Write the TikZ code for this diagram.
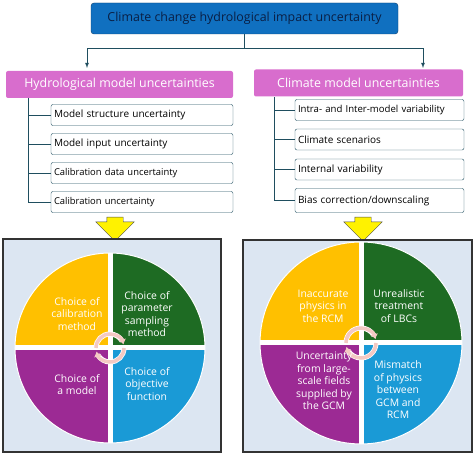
\documentclass[tikz,border=0pt]{standalone}
\usepackage{fontspec}
\setmainfont{Open Sans}
\usetikzlibrary{positioning,shapes.arrows,arrows.meta}

\definecolor{topblue}{HTML}{1070C0}
\definecolor{topline}{HTML}{0B3D6B}
\definecolor{toptext}{HTML}{0A1F44}
\definecolor{pinkbox}{HTML}{D86DCD}
\definecolor{treeline}{HTML}{1F4E5F}
\definecolor{panelblue}{HTML}{DCE6F2}
\definecolor{qyellow}{HTML}{FFC000}
\definecolor{qgreen}{HTML}{1E6B23}
\definecolor{qpurple}{HTML}{9C2A94}
\definecolor{qblue}{HTML}{1A9AD6}
\definecolor{cyclepink}{HTML}{F4C9C3}

\begin{document}
\begin{tikzpicture}[x=1pt, y=-1pt, >=latex, node distance=29pt]
        \tikzstyle{topbox} = [draw=topline, fill=topblue, rounded corners=3pt, text=toptext,
          minimum width=307pt, minimum height=31pt, font=\fontsize{12.4}{14}\selectfont]
        \tikzstyle{groupbox} = [fill=pinkbox, rounded corners=2pt, text=white,
          minimum height=27pt, font=\fontsize{12.4}{14}\selectfont]
        \tikzstyle{itembox} = [draw=treeline, rounded corners=2pt, align=left, inner xsep=3pt,
          minimum height=21pt, font=\fontsize{10}{11}\selectfont]
        \tikzstyle{yarrow} = [single arrow, draw=black!70, fill=yellow, rotate=-90,
          minimum height=24pt, inner xsep=0pt, inner ysep=8pt, single arrow head extend=11pt]
        \tikzstyle{panel} = [draw=black!80, line width=1.2pt, fill=panelblue]
        \tikzstyle{qtext} = [text=white, align=center, font=\fontsize{10.4}{12.5}\selectfont]
        \tikzstyle{cycle} = [cyclepink, line width=3.5pt, -{Latex[length=5pt,width=8pt]}]

        \useasboundingbox (0,0) rectangle (475,457);

        % header and the two groups
        \node [topbox] (top) at (244.5,18.5) {Climate change hydrological impact uncertainty};
        \node [groupbox, minimum width=227pt] (hyd) at (119.5,84.5) {Hydrological model uncertainties};
        \node [groupbox, minimum width=209pt] (clim) at (358.5,83) {Climate model uncertainties};
        \coordinate (split) at (244.5,48);
        \coordinate (hydtip) at (87,68);
        \coordinate (climtip) at (423,68);
        \draw [treeline, thick] (top.south) -- (split);
        \draw [treeline, thick, ->] (split) -| (hydtip);
        \draw [treeline, thick, ->] (split) -| (climtip);

        % hydrological items
        \node [itembox, text width=176pt] (h1) at (142,115) {Model structure uncertainty};
        \node [itembox, text width=176pt, below of=h1] (h2) {Model input uncertainty};
        \node [itembox, text width=176pt, below of=h2, font=\fontsize{9.4}{11}\selectfont] (h3) {Calibration data uncertainty};
        \node [itembox, text width=176pt, below of=h3, font=\fontsize{9.4}{11}\selectfont] (h4) {Calibration uncertainty};
        \coordinate (htree) at (28,98);
        \draw [treeline, thick] (htree) |- (h4.west);
        \foreach \i in {1,2,3}
          \draw [treeline, thick] (htree |- h\i.west) -- (h\i.west);

        % climate items
        \node [itembox, text width=163pt, font=\fontsize{9.6}{11}\selectfont] (c1) at (379.5,110) {Intra- and Inter-model variability};
        \node [itembox, text width=163pt, below of=c1, node distance=29.5pt] (c2) {Climate scenarios};
        \node [itembox, text width=163pt, below of=c2, node distance=30pt] (c3) {Internal variability};
        \node [itembox, text width=163pt, below of=c3, node distance=31pt, minimum height=24pt] (c4) {Bias correction/downscaling};
        \coordinate (ctree) at (274,97);
        \draw [treeline, thick] (ctree) |- (c4.west);
        \foreach \i in {1,2,3}
          \draw [treeline, thick] (ctree |- c\i.west) -- (c\i.west);

        % block arrows down to the panels
        \node [yarrow] (hdown) at (115,225) {};
        \node [yarrow] (cdown) at (363,225) {};

        % panels
        \draw [panel] (3,239) rectangle (221,452);
        \draw [panel] (243,240) rectangle (472,452);

        % hydrological circle
        \coordinate (hc) at (110,348);
        \fill [qyellow] (hc) -- ++(180:95) arc (180:270:95) -- cycle;
        \fill [qgreen] (hc) -- ++(270:95) arc (270:360:95) -- cycle;
        \fill [qblue] (hc) -- ++(0:95) arc (0:90:95) -- cycle;
        \fill [qpurple] (hc) -- ++(90:95) arc (90:180:95) -- cycle;
        \draw [white, line width=1pt] (hc) circle (95);
        \draw [white, line width=5pt] ([xshift=-95pt]hc) -- ([xshift=95pt]hc);
        \draw [white, line width=5pt] ([yshift=95pt]hc) -- ([yshift=-95pt]hc);
        \draw [white, line width=5pt] (hc) ++(180:14) arc (180:330:14);
        \draw [white, line width=5pt] (hc) ++(0:14) arc (0:150:14);
        \draw [cycle] (hc) ++(180:14) arc (180:345:14);
        \draw [cycle] (hc) ++(0:14) arc (0:165:14);
        \node [qtext] (hq1) at (77,314) {Choice of\\calibration\\method};
        \node [qtext] (hq2) at (147,314) {Choice of\\parameter\\sampling\\method};
        \node [qtext] (hq3) at (77,384.5) {Choice of\\a model};
        \node [qtext] (hq4) at (147,384) {Choice of\\objective\\function};

        % climate circle
        \coordinate (cc) at (361,343);
        \fill [qyellow] (cc) -- ++(180:101) arc (180:270:101) -- cycle;
        \fill [qgreen] (cc) -- ++(270:101) arc (270:360:101) -- cycle;
        \fill [qblue] (cc) -- ++(0:101) arc (0:90:101) -- cycle;
        \fill [qpurple] (cc) -- ++(90:101) arc (90:180:101) -- cycle;
        \draw [white, line width=1pt] (cc) circle (101);
        \draw [white, line width=5pt] ([xshift=-101pt]cc) -- ([xshift=101pt]cc);
        \draw [white, line width=5pt] ([yshift=101pt]cc) -- ([yshift=-101pt]cc);
        \draw [white, line width=5pt] (cc) ++(180:15) arc (180:330:15);
        \draw [white, line width=5pt] (cc) ++(0:15) arc (0:150:15);
        \draw [cycle] (cc) ++(180:15) arc (180:345:15);
        \draw [cycle] (cc) ++(0:15) arc (0:165:15);
        \node [qtext] (cq1) at (323,306) {Inaccurate\\physics in\\the RCM};
        \node [qtext] (cq2) at (399,306) {Unrealistic\\treatment\\of LBCs};
        \node [qtext] (cq3) at (324,381) {Uncertainty\\from large-\\scale fields\\supplied by\\the GCM};
        \node [qtext] (cq4) at (398,390) {Mismatch\\of physics\\between\\GCM and\\RCM};
\end{tikzpicture}
\end{document}
